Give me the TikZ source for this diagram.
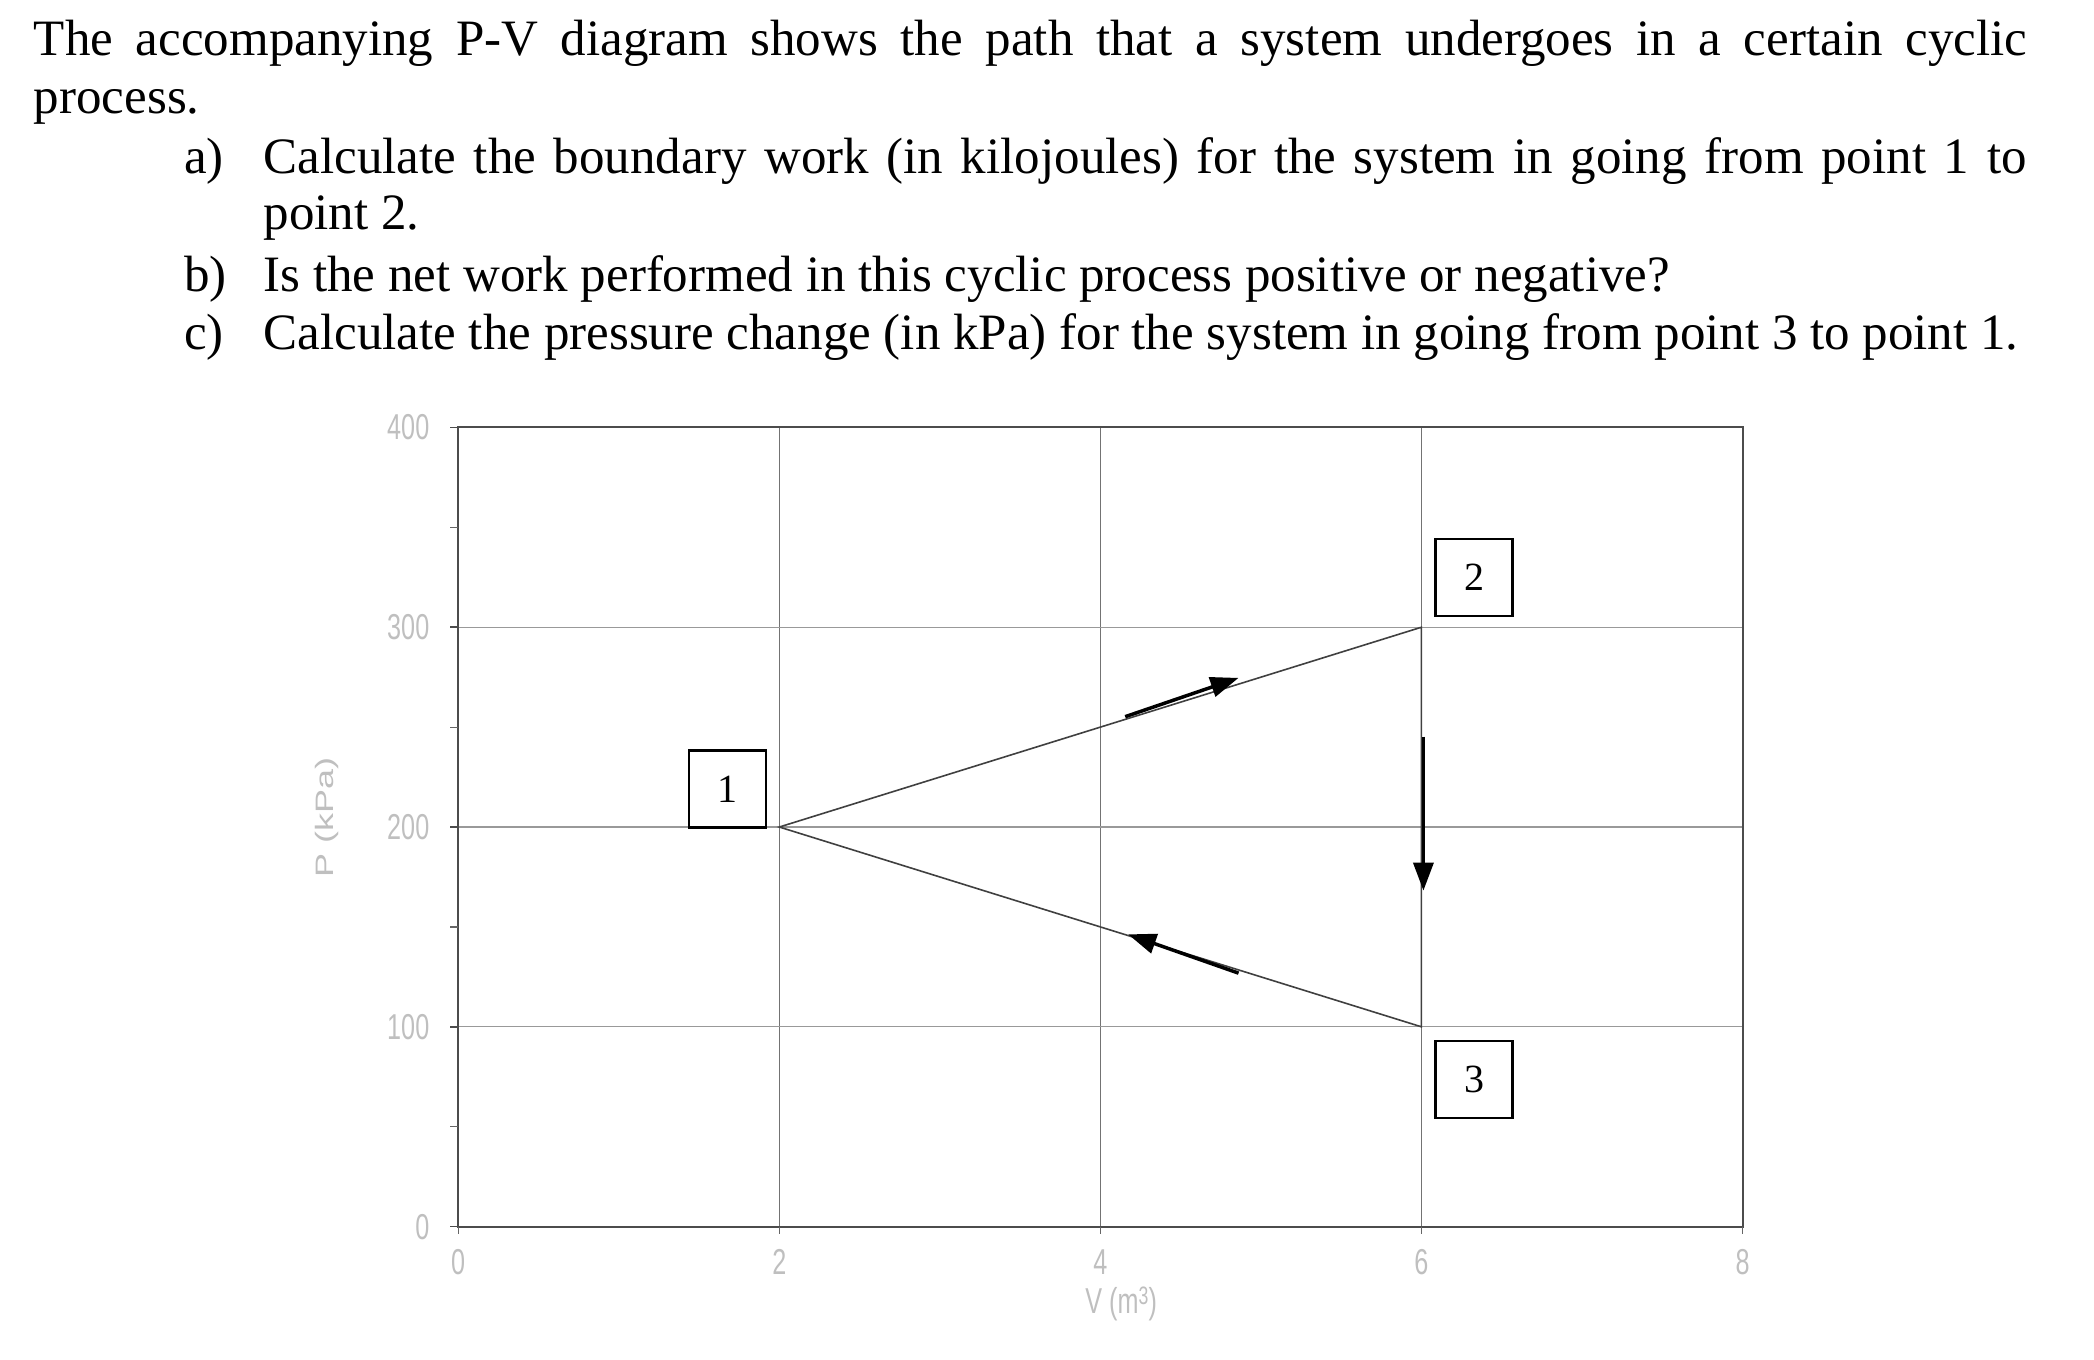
\documentclass[tikz,border=0pt]{standalone}
\usepackage{fontspec}
\setmainfont{Liberation Serif}
\setsansfont{Liberation Sans}
\usetikzlibrary{arrows.meta}
\begin{document}
\begin{tikzpicture}[x=1pt,y=-1pt,
  txt/.style={anchor=base west,inner sep=0pt,font=\fontsize{51}{58}\selectfont},
  tick/.style={font=\sffamily\fontsize{36}{36}\selectfont,text=black!25,xscale=0.7,inner sep=0pt},
  grid/.style={draw=black!55,line width=1.2pt},
  lbl/.style={draw,line width=2.5pt,minimum width=77pt,minimum height=77pt,inner sep=0pt,font=\fontsize{40}{40}\selectfont},
  flow/.style={line width=3.5pt,-{Triangle[length=28pt,width=20pt]}}]
\useasboundingbox (0,0) rectangle (2094,1360);
\begin{scope}[x=0.994pt,y=-0.994pt]
% text
\node[txt] (l1) at (34,56) {\makebox[1993pt][s]{The accompanying P-V diagram shows the path that a system undergoes in a certain cyclic}};
\node[txt] (l2) at (34,114) {process.};
\node[txt] (a) at (185,175) {a)};
\node[txt] (at) at (265,175) {\makebox[1763pt][s]{Calculate the boundary work (in kilojoules) for the system in going from point 1 to}};
\node[txt] (at2) at (265,231) {point 2.};
\node[txt] (b) at (185,293) {b)};
\node[txt] (bt) at (265,293) {Is the net work performed in this cyclic process positive or negative?};
\node[txt] (c) at (185,352) {c)};
\node[txt] (ct) at (265,352) {Calculate the pressure change (in kPa) for the system in going from point 3 to point 1.};
% grid
\foreach \v in {2,4,6} \draw[grid] ({461+161.5*\v},430) -- ({461+161.5*\v},1234);
\foreach \p in {100,200,300} \draw[grid,draw=black!40] (461,{1234-2.01*\p}) -- (1753,{1234-2.01*\p});
\draw[black!70,line width=2pt] (461,430) rectangle (1753,1234);
\foreach \p in {0,100,200,300,400} \draw[black!70,line width=1.5pt] (453,{1234-2.01*\p}) -- (461,{1234-2.01*\p});
\foreach \p in {50,150,250,350} \draw[black!60,line width=1.2pt] (453,{1234-2.01*\p}) -- (461,{1234-2.01*\p});
\foreach \v in {0,2,4,6,8} \draw[black!60,line width=1.2pt] ({461+161.5*\v},1234) -- ({461+161.5*\v},1241);
% tick labels
\foreach \p in {0,100,200,300,400} \node[tick,anchor=east] (p\p) at (432,{1234-2.01*\p}) {\p};
\foreach \v in {0,2,4,6,8} \node[tick] (v\v) at ({461+161.5*\v},1270) {\v};
\node[tick,rotate=90] (pl) at (329,822) {P (kPa)};
\node[tick] (vl) at (1128,1312) {V (m\textsuperscript{3})};
% cycle
\coordinate (P1) at (784,832);
\coordinate (P2) at (1430,631);
\coordinate (P3) at (1430,1033);
\draw[black!75,line width=1.6pt] (P1) -- (P2) -- (P3) -- cycle;
\node[lbl] (b1) at (732,794) {1};
\node[lbl] (b2) at (1483,581) {2};
\node[lbl] (b3) at (1483,1086) {3};
% arrows
\coordinate (u1) at (1132,721); \coordinate (u2) at (1246,682);
\coordinate (d1) at (1432,741); \coordinate (d2) at (1432,896);
\coordinate (w1) at (1246,979); \coordinate (w2) at (1135,940);
\draw[flow] (u1) -- (u2);
\draw[flow] (d1) -- (d2);
\draw[flow] (w1) -- (w2);
\end{scope}
\end{tikzpicture}
\end{document}
